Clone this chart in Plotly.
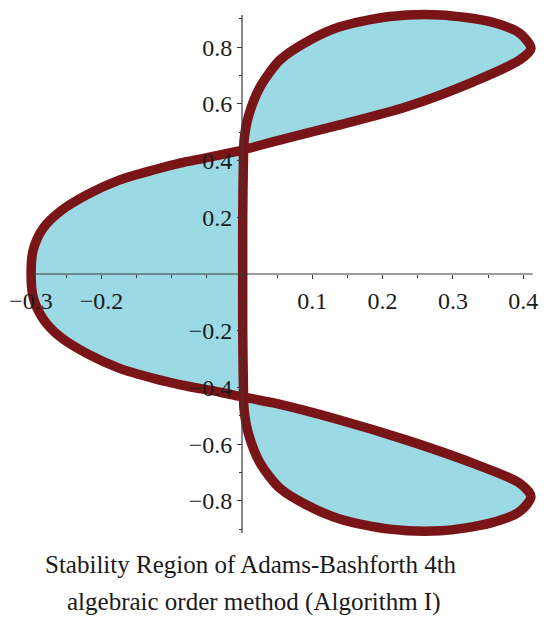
import plotly.graph_objects as go

# boundary locus, traced once round (x = Re, y = Im)
re_z = [0.001, 0.001, 0.002, 0.003, 0.009, 0.026, 0.054, 0.092, 0.139, 0.21, 0.282, 0.353, 0.395, 0.411,
        0.395, 0.329, 0.234, 0.139, 0.045, 0.0, -0.031, -0.079, -0.126, -0.174, -0.221, -0.259, -0.283,
        -0.297, -0.300, -0.297, -0.283, -0.259, -0.221, -0.174, -0.126, -0.079, -0.031, 0.0, 0.045, 0.139,
        0.234, 0.329, 0.395, 0.411, 0.395, 0.353, 0.282, 0.21, 0.139, 0.092, 0.054, 0.026, 0.009, 0.003,
        0.002, 0.001, 0.001]
im_z = [0.0, 0.2, 0.40, 0.473, 0.555, 0.661, 0.755, 0.819, 0.872, 0.908, 0.914, 0.890, 0.849, 0.796,
        0.755, 0.678, 0.590, 0.526, 0.467, 0.437, 0.420, 0.396, 0.367, 0.332, 0.279, 0.220, 0.161,
        0.085, 0.0, -0.082, -0.158, -0.221, -0.280, -0.333, -0.368, -0.395, -0.417, -0.433, -0.455, -0.515,
        -0.586, -0.668, -0.738, -0.785, -0.838, -0.879, -0.906, -0.900, -0.864, -0.815, -0.756, -0.668, -0.562, -0.480,
        -0.40, -0.2, 0.0]

x_ticks = [-0.3, -0.2, 0.1, 0.2, 0.3, 0.4]
x_labels = ['−0.3', '−0.2', '0.1', '0.2', '0.3', '0.4']
y_ticks = [-0.8, -0.6, -0.4, -0.2, 0.2, 0.4, 0.6, 0.8]
y_labels = ['−0.8', '−0.6', '−0.4', '−0.2', '0.2', '0.4', '0.6', '0.8']

caption = ['Stability Region of Adams-Bashforth 4th',
           'algebraic order method (Algorithm I)']

serif = 'Liberation Serif'
axis_col = '#3a3a3a'

fig = go.Figure()
fig.add_trace(go.Scatter(
    x=re_z, y=im_z, mode='lines', fill='toself',
    fillcolor='#9bd9e4',
    line=dict(color='#7a1517', width=9.5, shape='spline', smoothing=0.8),
    hoverinfo='skip', showlegend=False
))

# Maple-style axes crossing at the origin
fig.add_shape(type='line', x0=-0.300, x1=0.4135, y0=0, y1=0,
              line=dict(color=axis_col, width=1.2), layer='above')
fig.add_shape(type='line', x0=0, x1=0, y0=-0.914, y1=0.914,
              line=dict(color=axis_col, width=1.2), layer='above')

fig.add_annotation(text=caption[0], xref='paper', yref='paper', x=0.4425, y=-0.045,
                   showarrow=False, xanchor='center', yanchor='middle',
                   font=dict(family=serif, size=25, color='#1a1a1a'))
fig.add_annotation(text=caption[1], xref='paper', yref='paper', x=0.4474, y=-0.1144,
                   showarrow=False, xanchor='center', yanchor='middle',
                   font=dict(family=serif, size=25, color='#1a1a1a'))

# page body adds an 8px margin, so the figure is 8px smaller each way
fig.update_layout(
    width=542, height=611,
    margin=dict(l=16, r=13, t=0, b=78),
    plot_bgcolor='white', paper_bgcolor='white',
    font=dict(family=serif, size=24, color='#1a1a1a'),
    xaxis=dict(range=[-0.3101, 0.4196], anchor='free', position=0.5009,
               showline=False, showgrid=False, zeroline=False,
               tickmode='array', tickvals=x_ticks, ticktext=x_labels,
               ticks='outside', ticklen=4, tickcolor=axis_col,
               ticklabelstandoff=1,
               minor=dict(dtick=0.05, ticks='outside', ticklen=3, tickcolor=axis_col, showgrid=False)),
    yaxis=dict(range=[-0.9418, 0.9383], anchor='free', position=0.4250,
               showline=False, showgrid=False, zeroline=False,
               tickmode='array', tickvals=y_ticks, ticktext=y_labels,
               ticks='outside', ticklen=5, tickcolor=axis_col,
               minor=dict(dtick=0.1, ticks='outside', ticklen=3, tickcolor=axis_col, showgrid=False)),
)

fig.write_html("out.html")
